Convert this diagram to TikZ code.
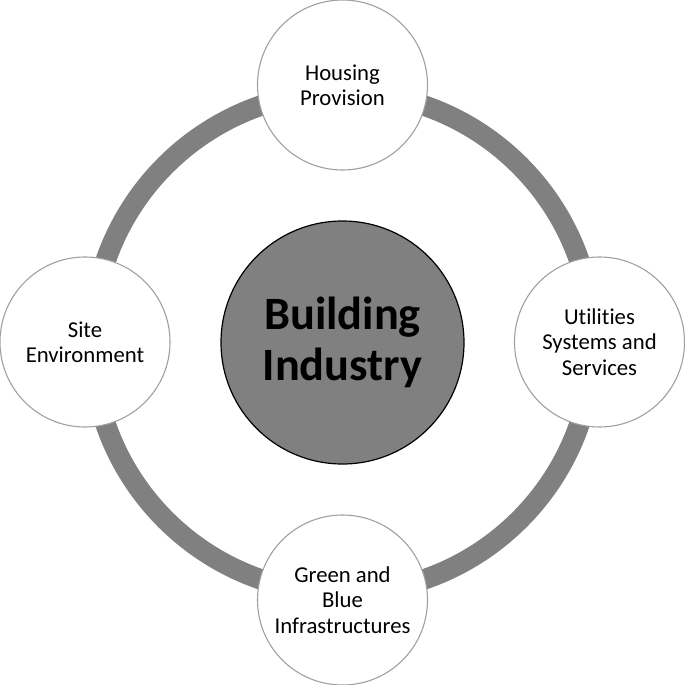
\documentclass[tikz,border=0pt]{standalone}
\usepackage{fontspec}
\setmainfont{Carlito}[Ligatures=NoCommon]
\definecolor{ringgray}{HTML}{808080}
\definecolor{edgegray}{HTML}{A0A0A0}
\begin{document}
\begin{tikzpicture}[x=1bp,y=-1bp,
  outer/.style={circle, draw=edgegray, line width=1.1bp, fill=white, inner sep=0pt,
    minimum size=170bp, align=center, text=black,
    font=\fontsize{22.8}{25.3}\selectfont},
  hub/.style={circle, draw=black, line width=1.2bp, fill=ringgray, inner sep=0pt,
    minimum size=243bp, align=center, text=black,
    font=\fontsize{46.5}{51}\selectfont\bfseries},
  ring/.style={draw=ringgray, line width=20.5bp}]
\useasboundingbox (0,0) rectangle (685,685);
\coordinate (c) at (342.5,342.5);
\draw[ring] (c) circle (250.5bp);
\node[hub] (hub) at (c) {Building\\Industry};
\node[outer] (top) at (342.5,85) {Housing\\Provision};
\node[outer] (right) at (599.5,342) {Utilities\\Systems and\\Services};
\node[outer] (bottom) at (342.5,600) {Green and\\Blue\\Infrastructures};
\node[outer] (left) at (85,342) {Site\\Environment};
\end{tikzpicture}
\end{document}
